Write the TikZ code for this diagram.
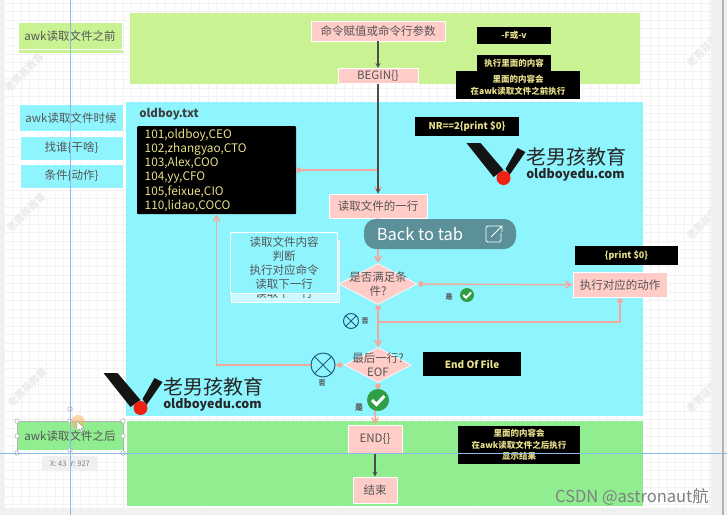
\documentclass[tikz,border=0pt]{standalone}
\usepackage{fontspec}
\setmainfont{Noto Sans CJK SC}
\usepackage{tikz}
\usetikzlibrary{positioning,arrows,shapes.geometric,calc}

\definecolor{lightgreen}{HTML}{C9F392}
\definecolor{midgreen}{HTML}{90EE90}
\definecolor{aqua}{HTML}{8EF5FF}
\definecolor{palepink}{HTML}{FFCCC7}
\definecolor{salmon}{HTML}{F4A79B}
\definecolor{notetext}{HTML}{E9E08C}
\definecolor{labeltext}{HTML}{555555}
\definecolor{okgreen}{HTML}{2F9E44}
\definecolor{crossblue}{HTML}{1F5C7A}
\definecolor{guide}{HTML}{8DB9E8}
\definecolor{logored}{HTML}{EE2211}
\definecolor{backteal}{HTML}{5B9099}

\tikzset{
  phase/.style={draw=white,line width=0.6pt,text=labeltext,font=\fontsize{11.5}{14}\selectfont,align=center,inner sep=0pt},
  stepbox/.style={draw=white,line width=0.8pt,fill=palepink,text=labeltext,font=\fontsize{11.5}{14}\selectfont,inner sep=0pt},
  decision/.style={diamond,draw=white,line width=0.6pt,fill=palepink,inner sep=0pt},
  note/.style={fill=black,text=notetext,align=center,font=\fontsize{#1}{11.5}\selectfont\bfseries,inner sep=0pt},
  flowdot/.style={circle,fill=salmon,inner sep=0pt,minimum size=5.5pt},
  flow/.style={draw=salmon,line width=1.5pt,>=angle 60},
  dark/.style={draw=black!70,line width=1.2pt,>=stealth},
  small/.style={text=labeltext,font=\fontsize{7}{9}\selectfont\bfseries,inner sep=0pt},
  xmark/.style={circle,draw=crossblue,line width=1pt,fill=aqua,minimum size=#1,inner sep=0pt,
    path picture={\draw[crossblue,line width=0.8pt] (path picture bounding box.north west) -- (path picture bounding box.south east)
      (path picture bounding box.north east) -- (path picture bounding box.south west);}},
  okmark/.style={circle,fill=okgreen,minimum size=#1,inner sep=0pt,
    path picture={\draw[white,line width={0.14*#1}]
      ($(path picture bounding box.center)+({-0.27*#1},0)$) -- ++({0.2*#1},{-0.2*#1}) -- ++({0.36*#1},{0.38*#1});}},
  handle/.style={circle,draw=black!35,fill=white,line width=0.5pt,minimum size=4.5pt,inner sep=0pt},
  stamp/.style={rotate=45,text=black!8,font=\fontsize{10}{10}\selectfont\bfseries},
  oldboylogo/.pic={
    \fill[black!92] (-37,-35) -- (-23,-35) -- (0,-8) -- (-10,-1) -- cycle;
    \fill[black!92] (14,-30) -- (22,-26) -- (6,-3) -- (2,-9) -- cycle;
    \fill[logored] (0,0) circle (7);
    \node[text=black!85,font=\fontsize{20}{20}\selectfont,inner sep=0pt] (-logocn) at (73,-21) {老男孩教育};
    \node[text=black!85,font=\fontsize{12.5}{14}\selectfont\bfseries,inner sep=0pt] (-logoen) at (72,-3) {oldboyedu.com};
  }
}

\begin{document}
\begin{tikzpicture}[x=1pt,y=-1pt]
  \useasboundingbox (0,0) rectangle (727,515);
  % grid of the canvas
  \fill[white] (0,0) rectangle (727,515);
  \foreach \i in {0,1,...,85} {
    \draw[black!5,line width=0.4pt] (4+\i*8.5,0) -- (4+\i*8.5,515);
  }
  \foreach \j in {0,1,...,60} {
    \draw[black!5,line width=0.4pt] (0,3+\j*8.5) -- (727,3+\j*8.5);
  }
  % faint stamps
  \foreach \px/\py/\pn in {24/72/a,26/212/b,27/387/c,706/47/d,706/220/e,706/393/f} {
    \node[stamp] (stamp\pn) at (\px,\py) {老男孩教育};
  }
  \fill[black!6] (0,0) rectangle (4,515);
  \fill[black!6] (711,0) rectangle (727,515);
  \fill[black!6] (0,508) rectangle (727,515);
  \fill[black!30] (722,0) rectangle (724,515);
  % three panels
  \fill[lightgreen] (130,13) rectangle (640,84);
  \fill[aqua] (126,102) rectangle (643,416);
  \fill[midgreen] (127,421) rectangle (643,506);
  % left column
  \fill[lightgreen] (19,50) rectangle (123,53);
  \node[phase,fill=lightgreen,minimum width=104pt,minimum height=27pt] (before) at (70,36) {awk读取文件之前};
  \node[phase,fill=aqua,minimum width=104pt,minimum height=27pt] (during) at (71,118) {awk读取文件时候};
  \node[phase,fill=aqua,minimum width=103pt,minimum height=24pt] (who) at (71.5,148) {找谁\{干啥\}};
  \node[phase,fill=aqua,minimum width=103pt,minimum height=24pt] (cond) at (71.5,176) {条件\{动作\}};
  \node[phase,fill=midgreen,minimum width=106pt,minimum height=29pt] (after) at (70,436) {awk读取文件之后};
  % file
  \node[text=black!75,font=\fontsize{11.5}{12}\selectfont\bfseries,inner sep=0pt] (filename) at (169,114) {oldboy.txt};
  \node[fill=black,text=notetext,rounded corners=1pt,align=left,anchor=north west,
    minimum width=159pt,minimum height=88pt,inner sep=0pt,text width=152pt,
    font=\fontsize{11.8}{14.2}\selectfont] (filelist) at (137,126)
    {\hspace*{4pt}101,oldboy,CEO\\\hspace*{4pt}102,zhangyao,CTO\\\hspace*{4pt}103,Alex,COO\\\hspace*{4pt}104,yy,CFO\\\hspace*{4pt}105,feixue,CIO\\\hspace*{4pt}110,lidao,COCO};
  % flow
  \node[stepbox,minimum width=134pt,minimum height=20pt] (cmdargs) at (378,31) {命令赋值或命令行参数};
  \node[stepbox,minimum width=80pt,minimum height=15pt] (begin) at (378,76) {BEGIN\{\}};
  \node[stepbox,minimum width=98pt,minimum height=24pt] (readline) at (378,206) {读取文件的一行};
  \node[decision,minimum width=78pt,minimum height=41pt,
    label={[align=center,text=labeltext,font=\fontsize{11.5}{14}\selectfont]center:是否满足条\\件?}] (match) at (378,284) {};
  \node[stepbox,minimum width=94pt,minimum height=25pt] (action) at (620,285) {执行对应的动作};
  \node[decision,minimum width=67pt,minimum height=35pt,
    label={[align=center,text=labeltext,font=\fontsize{11.5}{14}\selectfont]center:最后一行?\\EOF}] (lastline) at (378,365) {};
  \node[stepbox,minimum width=54pt,minimum height=28pt] (endblock) at (375,439) {END\{\}};
  \node[stepbox,minimum width=44pt,minimum height=26pt] (finish) at (375,490) {结束};
  \node[flowdot] (listdot) at (299,170) {};
  \node[flowdot] (readdot) at (378,221) {};
  \node[flowdot] (yesdot) at (421,284) {};
  \node[flowdot] (nodot) at (378,308) {};
  \node[flowdot] (actiondot) at (620,301) {};
  \node[flowdot] (lastdot) at (340,365) {};
  \node[flowdot] (enddot) at (378,386) {};
  \coordinate (merge) at (378,322);
  \draw[flow,->] (listdot) -| (readline.north);
  \draw[flow,->] (readdot) -- (match);
  \draw[flow,->] (yesdot) -- (action);
  \draw[flow] (actiondot) |- (merge);
  \draw[flow,->] (nodot) -- (lastline);
  \draw[flow,->] (lastdot) -| (filelist);
  \draw[flow,->] (enddot) -- (375,400) -- (endblock);
  \draw[dark,->] (cmdargs) -- (begin);
  \draw[dark,->] (begin) -- (readline);
  \draw[dark,->] (endblock) -- (finish);
  % marks
  \node[xmark=24pt] (lastx) at (323,365) {};
  \node[small] (lastxtext) at (322,383) {否};
  \node[xmark=15pt] (matchx) at (351,321) {};
  \node[small] (matchxtext) at (365,321) {否};
  \node[okmark=14pt] (matchok) at (467,295) {};
  \node[small] (matchoktext) at (449,297) {是};
  \node[okmark=22pt] (lastok) at (378,400) {};
  \node[small,font=\fontsize{8}{9}\selectfont\bfseries] (lastoktext) at (359,408) {是};
  % notes
  \node[note=8.5,minimum width=74pt,minimum height=17pt] (optnote) at (514,35.5) {-F或-v};
  \node[note=8.5,minimum width=74pt,minimum height=16pt] (beginnote) at (514,63) {执行里面的内容};
  \node[note=8.5,minimum width=124pt,minimum height=28pt] (beforenote) at (518,85) {里面的内容会\\在awk读取文件之前执行};
  \node[note=9.5,minimum width=104pt,minimum height=19pt] (nrnote) at (467,126.5) {NR==2\{print \$0\}};
  \node[note=9,minimum width=103pt,minimum height=19pt] (printnote) at (626.5,255.5) {\{print \$0\}};
  \node[note=10,minimum width=98pt,minimum height=24pt] (eofnote) at (472,364) {End Of File};
  \node[note=8.5,minimum width=122pt,minimum height=38pt] (afternote) at (519,445) {里面的内容会\\在awk读取文件之后执行\\显示结果};
  % text box, with its copy under it
  \node[fill=aqua!45!white,draw=white,line width=0.6pt,minimum width=108pt,minimum height=62pt,inner sep=0pt] (copybox) at (285,271) {};
  \node[text=labeltext,font=\fontsize{11.5}{14}\selectfont,inner sep=0pt] (copytext) at (284,293) {读取下一行};
  \node[phase,fill=aqua,minimum width=107pt,minimum height=61pt,font=\fontsize{11.5}{14}\selectfont] (loopbox) at (284,263) {读取文件内容\\判断\\执行对应命令\\读取下一行};
  % logos
  \pic (logoa) at (503.5,178) {oldboylogo};
  \pic (logob) at (140.5,408) {oldboylogo};
  % selection of the last label
  \draw[black!30,line width=0.5pt] (17,421) rectangle (123,453);
  \draw[black!30,line width=0.5pt] (70,409) -- (70,421);
  \foreach \hx/\hy/\hn in {17/421/a,70/421/b,123/421/c,17/436/d,123/436/e,17/453/f,70/450/g,123/453/h,70/409/i} {
    \node[handle] (handle\hn) at (\hx,\hy) {};
  }
  \fill[orange!60,opacity=0.55] (78,422) circle (7);
  \fill[white,draw=black!50,line width=0.3pt] (77,421) -- (77,431) -- (79.5,429) -- (81.5,432.5) -- (83,431.5) -- (81,428.5) -- (84,428) -- cycle;
  \node[fill=black!6,rounded corners=2pt,text=black!50,font=\fontsize{7.5}{8}\selectfont,minimum width=56pt,minimum height=15pt,inner sep=0pt] (tooltip) at (70,463.5) {X: 43\ \ Y: 927};
  % guides
  \draw[guide,line width=0.5pt] (70,0) -- (70,515);
  \draw[guide,line width=0.6pt] (0,453) -- (727,453);
  % overlay
  \node[text=black!50,font=\fontsize{16.5}{18}\selectfont,inner sep=0pt] (csdn) at (632,497) {CSDN @astronaut航};
  \node[fill=backteal,rounded corners=12pt,minimum width=152pt,minimum height=30pt,inner sep=0pt] (backbtn) at (440,234) {};
  \node[text=white,font=\fontsize{16.5}{18}\selectfont,inner sep=0pt] (backtext) at (420,234) {Back to tab};
  \draw[white,line width=0.9pt,rounded corners=1.5pt] (496,226) -- (486,226) -- (486,242) -- (501,242) -- (501,233);
  \draw[white,line width=0.9pt] (491,237) -- (502,226) (496,226) -- (502,226) -- (502,232);
\end{tikzpicture}
\end{document}
